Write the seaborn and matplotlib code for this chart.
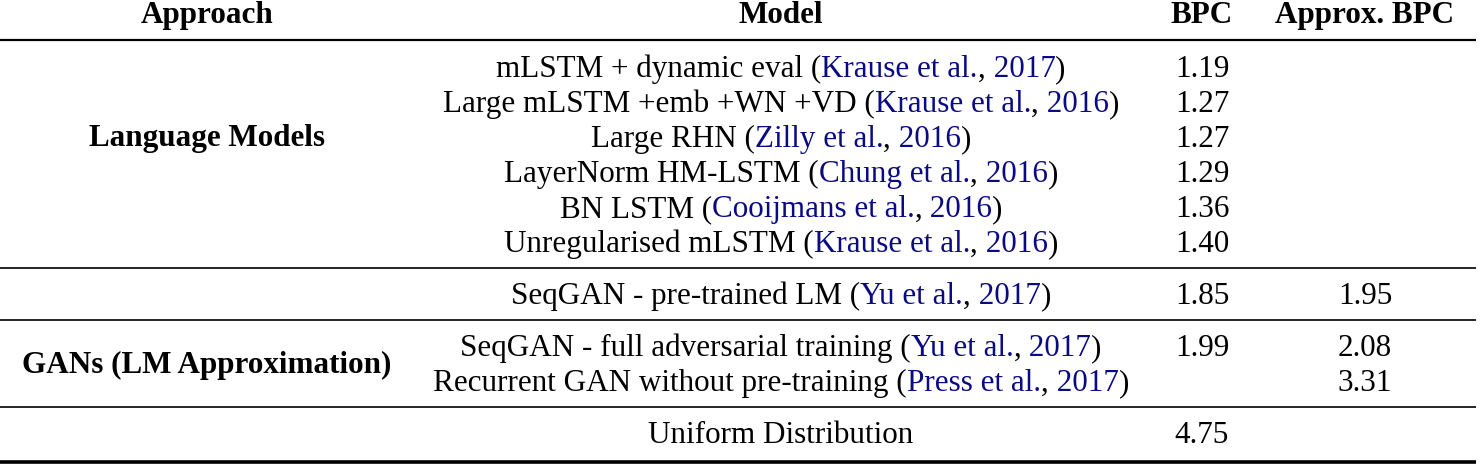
import matplotlib
matplotlib.use("Agg")
import matplotlib.pyplot as plt
import seaborn as sns

# table contents
headers = ["Approach", "Model", "BPC", "Approx. BPC"]
models = ["mLSTM + dynamic eval", "Large mLSTM +emb +WN +VD", "Large RHN",
          "LayerNorm HM-LSTM", "BN LSTM", "Unregularised mLSTM",
          "SeqGAN - pre-trained LM", "SeqGAN - full adversarial training",
          "Recurrent GAN without pre-training", "Uniform Distribution"]
cite_authors = ["Krause et al.", "Krause et al.", "Zilly et al.", "Chung et al.",
                "Cooijmans et al.", "Krause et al.", "Yu et al.", "Yu et al.",
                "Press et al.", None]
cite_years = ["2017", "2016", "2016", "2016", "2016", "2016",
              "2017", "2017", "2017", None]
bpc = ["1.19", "1.27", "1.27", "1.29", "1.36", "1.40", "1.85", "1.99", "", "4.75"]
approx_bpc = ["", "", "", "", "", "", "1.95", "2.08", "3.31", ""]
group_of_row = [0, 0, 0, 0, 0, 0, 1, 2, 2, 3]
group_labels = ["Language Models", "", "GANs (LM Approximation)", ""]

LINK = "#0a0a82"
FS = 22.4

sns.set_theme(style="white")
plt.rcParams["font.family"] = ["Liberation Serif", "DejaVu Serif"]
plt.rcParams["text.color"] = "black"

W, H = 1481, 465
fig = plt.figure(figsize=(W / 100, H / 100), dpi=100)
ax = fig.add_axes([0, 0, 1, 1])
ax.set_xlim(0, W)
ax.set_ylim(H, 0)
ax.axis("off")
sns.despine(ax=ax, left=True, bottom=True)

renderer = fig.canvas.get_renderer()


def ink_width(s, **kw):
    t = ax.text(0, 0, s, fontsize=FS, **kw)
    w = t.get_window_extent(renderer).width
    t.remove()
    return w


def rich_center(xc, y, pieces):
    full = "".join(p for p, _ in pieces)
    x0 = xc - ink_width(full) / 2
    prefix = ""
    for text, color in pieces:
        prefix += text
        ax.text(x0 + ink_width(prefix), y, text, ha="right", va="baseline",
                fontsize=FS, color=color)


# column centres
col_x = [207, 781, 1202, 1365]

# header
for cx, h in zip(col_x, headers):
    ax.text(cx, 23, h, ha="center", va="baseline", fontsize=FS, fontweight="bold",
            color="black")

# row positions: constant pitch, extra gap at each group change
pitch, gap = 35, 17
row_y = []
y = 67
for i, g in enumerate(group_of_row):
    if i > 0:
        y += pitch + (gap if g != group_of_row[i - 1] else 0)
    row_y.append(y)

# rules
ax.hlines(40, 0, 1476, color="black", lw=1.6)
for i in range(1, len(group_of_row)):
    if group_of_row[i] != group_of_row[i - 1]:
        ax.hlines((row_y[i - 1] + row_y[i]) / 2 - 0.5, 0, 1476, color="black", lw=1.2)
ax.hlines(462, 0, 1476, color="black", lw=2.6)

# body
for i, yy in enumerate(row_y):
    base = yy + 10
    if cite_authors[i]:
        pieces = [(models[i] + " (", "black"), (cite_authors[i], LINK), (",", "black"),
                  (" " + cite_years[i], LINK), (")", "black")]
    else:
        pieces = [(models[i], "black")]
    rich_center(col_x[1], base, pieces)
    if bpc[i]:
        ax.text(col_x[2], base, bpc[i], ha="center", va="baseline", fontsize=FS,
                color="black")
    if approx_bpc[i]:
        ax.text(col_x[3], base, approx_bpc[i], ha="center", va="baseline", fontsize=FS,
                color="black")

# group labels (multirow: sits on the middle row, rounded up)
for g, label in enumerate(group_labels):
    if not label:
        continue
    ys = [row_y[i] for i in range(len(row_y)) if group_of_row[i] == g]
    if len(ys) % 2 == 0 and len(ys) > 2:
        yc = ys[len(ys) // 2 - 1]
    else:
        yc = (min(ys) + max(ys)) / 2
    ax.text(col_x[0], yc + 9, label, ha="center", va="baseline", fontsize=FS,
            fontweight="bold", color="black")

fig.savefig("out.png", dpi=100)
